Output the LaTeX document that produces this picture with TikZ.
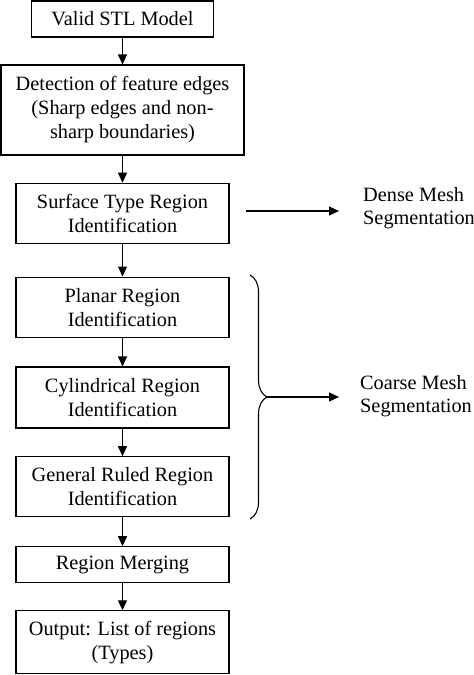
\documentclass[tikz,border=0pt]{standalone}
\usepackage{fontspec}
\setmainfont{Liberation Serif}
\usetikzlibrary{arrows.meta,decorations.pathreplacing}
\begin{document}
\begin{tikzpicture}[x=1pt,y=-1pt,
  box/.style={draw, line width=1.1pt, inner sep=0pt, align=center,
    font=\fontsize{20.3}{24}\selectfont},
  side/.style={inner sep=0pt, anchor=west, align=left,
    font=\fontsize{20.3}{22.5}\selectfont},
  arr/.style={line width=1.1pt, -{Triangle[length=10pt,width=9pt]}}]
\useasboundingbox (0,0) rectangle (474,675);
\node[box, minimum width=182pt, minimum height=36pt] (b1) at (122.5,19) {Valid STL Model};
\node[box, minimum width=243pt, minimum height=90pt] (b2) at (122.5,110) {Detection of feature edges\\(Sharp edges and non-\\sharp boundaries)};
\node[box, minimum width=213pt, minimum height=60.5pt] (b3) at (122.5,213.5) {Surface Type Region\\Identification};
\node[box, minimum width=213pt, minimum height=60.5pt] (b4) at (122.5,307.3) {Planar Region\\Identification};
\node[box, minimum width=213pt, minimum height=61pt] (b5) at (122.5,397.5) {Cylindrical Region\\Identification};
\node[box, minimum width=213pt, minimum height=60pt] (b6) at (122.5,486.7) {General Ruled Region\\Identification};
\node[box, minimum width=213pt, minimum height=36pt] (b7) at (122.5,564.7) {Region Merging};
\node[box, minimum width=213pt, minimum height=63pt] (b8) at (122.5,642.3) {Output: List of regions\\(Types)};
\node[side] (dense) at (363,208) {Dense Mesh\\Segmentation};
\node[side] (coarse) at (360,396) {Coarse Mesh\\Segmentation};
\coordinate (bt) at (250,275);
\coordinate (bb) at (250,519);
\coordinate (tip) at (267,397);
\draw[arr] (b1) -- (b2);
\draw[arr] (b2) -- (b3);
\draw[arr] (b3) -- (b4);
\draw[arr] (b4) -- (b5);
\draw[arr] (b5) -- (b6);
\draw[arr] (b6) -- (b7);
\draw[arr] (b7) -- (b8);
\draw[arr, shorten <=16pt, shorten >=24pt] ([yshift=2.5pt]b3.east) -- ([yshift=2.5pt]b3.east -| dense.west);
\draw[line width=1.1pt, decorate, decoration={brace, amplitude=17pt}] (bt) -- (bb);
\draw[arr, shorten >=21pt] (tip) -- (tip -| coarse.west);
\end{tikzpicture}
\end{document}
